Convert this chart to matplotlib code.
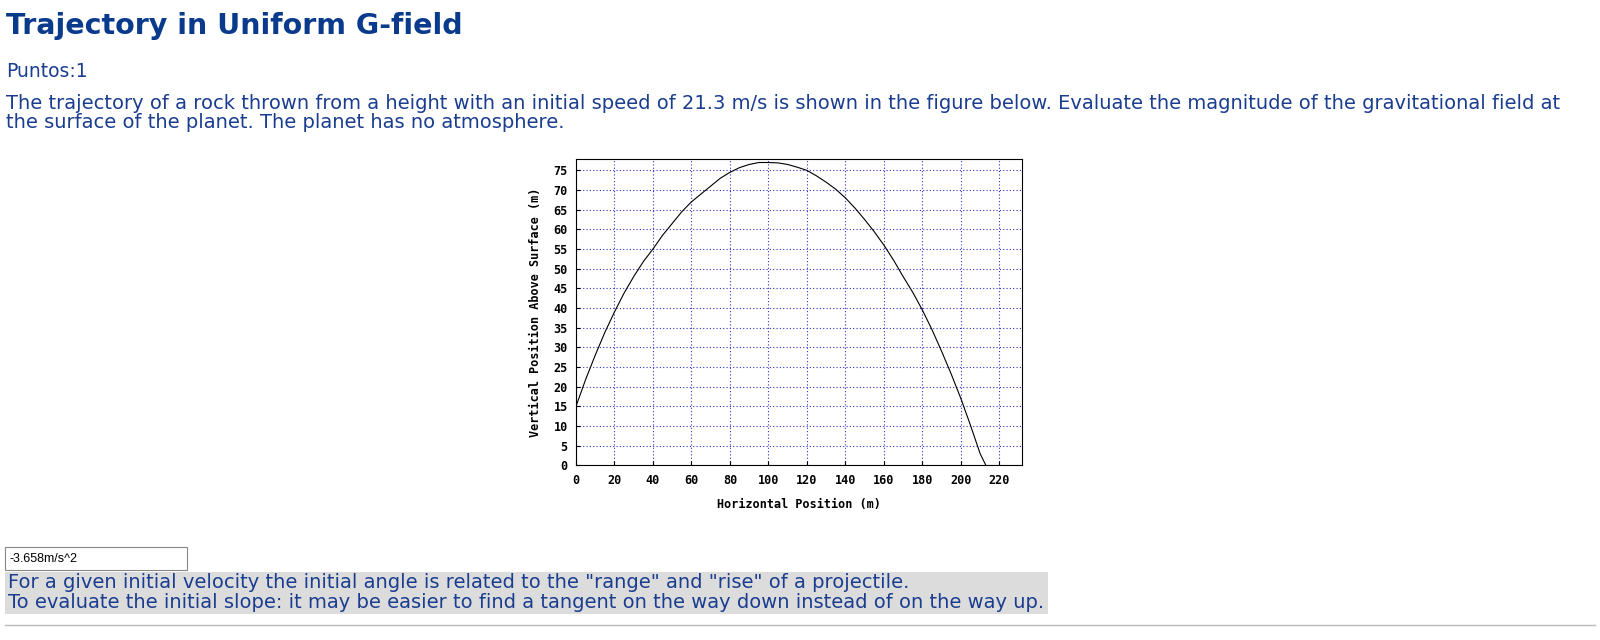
import matplotlib.pyplot as plt
from matplotlib.patches import Rectangle
from matplotlib.lines import Line2D

# Trajectory points
x_pos = [0, 5, 10, 15, 20, 25, 30, 35, 40, 45, 50, 55, 60, 65, 70, 75, 80, 85, 90, 95,
         100, 105, 110, 115, 120, 125, 130, 135, 140, 145, 150, 155, 160, 165, 170,
         175, 180, 185, 190, 195, 200, 205, 210, 213]
y_pos = [15, 21.8, 28, 33.8, 39, 43.8, 48, 51.8, 55, 58.5, 61.5, 64.5, 67, 69, 71, 73,
         74.5, 75.7, 76.5, 77, 77, 76.9, 76.5, 75.8, 75, 73.6, 72, 70.2, 68, 65.4,
         62.5, 59.4, 56, 52.2, 48, 44, 39.5, 34.5, 29, 23.2, 17, 10.2, 3, 0]
x_ticks = list(range(0, 221, 20))
y_ticks = list(range(0, 76, 5))

blue = '#1a3d8f'
fig = plt.figure(figsize=(16, 6.4), dpi=100)

fig.text(0.004, 0.96, 'Trajectory in Uniform G-field', fontsize=20.5, weight='bold',
         color='#0a3a8c', va='center')
fig.text(0.004, 0.888, 'Puntos:1', fontsize=13.5, color=blue, va='center')
fig.text(0.004, 0.838, 'The trajectory of a rock thrown from a height with an initial speed of 21.3 m/s '
         'is shown in the figure below. Evaluate the magnitude of the gravitational field at',
         fontsize=14, color=blue, va='center')
fig.text(0.004, 0.808, 'the surface of the planet. The planet has no atmosphere.',
         fontsize=14, color=blue, va='center')

ax = fig.add_axes([0.36, 0.273, 0.279, 0.478])
ax.plot(x_pos, y_pos, color='black', lw=0.8)
ax.set_xlim(0, 232)
ax.set_ylim(0, 77.8)
ax.set_xticks(x_ticks)
ax.set_yticks(y_ticks)
ax.grid(True, color='#3030c0', linestyle=(0, (1, 2)), lw=0.8)
ax.tick_params(direction='in', length=3, labelsize=8.5, pad=6)
for lab in ax.get_xticklabels() + ax.get_yticklabels():
    lab.set_family('DejaVu Sans Mono')
    lab.set_weight('bold')
ax.set_xlabel('Horizontal Position (m)', family='DejaVu Sans Mono', weight='bold',
              fontsize=8.5, labelpad=8)
ax.set_ylabel('Vertical Position Above Surface (m)', family='DejaVu Sans Mono', weight='bold',
              fontsize=8.5, labelpad=8)

# answer box
fig.patches.append(Rectangle((0.003, 0.109), 0.114, 0.036, transform=fig.transFigure,
                             facecolor='white', edgecolor='#888888', lw=0.8))
fig.text(0.006, 0.127, '-3.658m/s^2', fontsize=9, family='Liberation Sans', va='center')

# hint box
fig.patches.append(Rectangle((0.003, 0.041), 0.652, 0.066, transform=fig.transFigure,
                             facecolor='#dcdcdc', edgecolor='none'))
fig.text(0.005, 0.09, 'For a given initial velocity the initial angle is related to the "range" and "rise" of a projectile.',
         fontsize=14, color=blue, va='center')
fig.text(0.005, 0.058, 'To evaluate the initial slope: it may be easier to find a tangent on the way down instead of on the way up.',
         fontsize=14, color=blue, va='center')
fig.add_artist(Line2D([0.003, 0.997], [0.023, 0.023], transform=fig.transFigure, color='#bbbbbb', lw=1))

fig.savefig('out.png', dpi=100)
